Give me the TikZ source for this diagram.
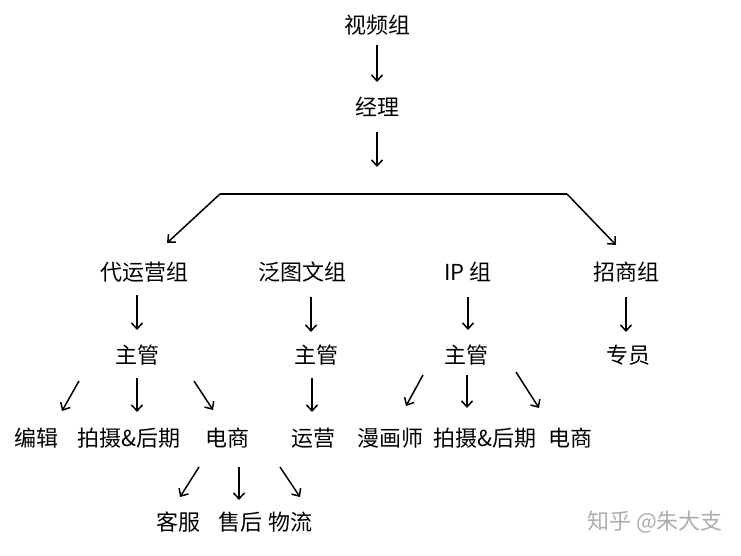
\documentclass[tikz,border=0pt]{standalone}
\usepackage{fontspec}
\setmainfont{Noto Sans CJK SC}
\usetikzlibrary{arrows.meta}
\tikzset{
  lbl/.style={inner sep=0pt, font=\fontsize{22}{26}\selectfont, text=black},
  arr/.style={line width=1.5pt, -{Straight Barb[length=6pt,width=11pt,line width=1.5pt]}},
  ln/.style={line width=1.5pt},
  wm/.style={inner sep=0pt, font=\fontsize{22}{26}\selectfont, text=black!32}
}
\begin{document}
\begin{tikzpicture}[x=1pt,y=-1pt]
\useasboundingbox (0,0) rectangle (741,556);
\fill[white] (0,0) rectangle (741,556);
% nodes
\node[lbl] (sp) at (377,25) {视频组};
\node[lbl] (jl) at (377,107) {经理};
\node[lbl] (dy) at (144,272) {代运营组};
\node[lbl] (ft) at (302,272) {泛图文组};
\node[lbl] (ip) at (468,272) {IP 组};
\node[lbl] (zs) at (626,272) {招商组};
\node[lbl] (zg1) at (137,355) {主管};
\node[lbl] (zg2) at (316,355) {主管};
\node[lbl] (zg3) at (466,355) {主管};
\node[lbl] (zy) at (628,355) {专员};
\node[lbl] (bj) at (36,438) {编辑};
\node[lbl] (ps1) at (129,438) {拍摄\&后期};
\node[lbl] (ds1) at (227,438) {电商};
\node[lbl] (yy) at (313,438) {运营};
\node[lbl] (mh) at (390,438) {漫画师};
\node[lbl] (ps2) at (485,438) {拍摄\&后期};
\node[lbl] (ds2) at (570,438) {电商};
\node[lbl] (kf) at (178,522) {客服};
\node[lbl] (sh) at (240,522) {售后};
\node[lbl] (wl) at (290,522) {物流};
\node[wm] (wmk) at (655,522) {知乎 @朱大支};
% coordinates
\coordinate (a1s) at (377,45);  \coordinate (a1e) at (377,82);
\coordinate (a2s) at (377,132); \coordinate (a2e) at (377,167);
\coordinate (hl) at (220,194);  \coordinate (hr) at (567,194);
\coordinate (dle) at (167,243); \coordinate (dre) at (616,245);
\coordinate (b1s) at (137,295); \coordinate (b1e) at (137,330);
\coordinate (b2s) at (311,297); \coordinate (b2e) at (311,332);
\coordinate (b3s) at (468,297); \coordinate (b3e) at (468,330);
\coordinate (b4s) at (626,297); \coordinate (b4e) at (626,332);
\coordinate (c1s) at (79,381);  \coordinate (c1e) at (62,411);
\coordinate (c2s) at (137,378); \coordinate (c2e) at (137,412);
\coordinate (c3s) at (194,381); \coordinate (c3e) at (213,410);
\coordinate (c4s) at (312,378); \coordinate (c4e) at (312,412);
\coordinate (c5s) at (423,375); \coordinate (c5e) at (406,406);
\coordinate (c6s) at (467,375); \coordinate (c6e) at (467,408);
\coordinate (c7s) at (516,372); \coordinate (c7e) at (539,408);
\coordinate (d1s) at (199,467); \coordinate (d1e) at (180,497);
\coordinate (d2s) at (239,467); \coordinate (d2e) at (239,500);
\coordinate (d3s) at (280,467); \coordinate (d3e) at (300,497);
% connectors
\draw[arr] (a1s) -- (a1e);
\draw[arr] (a2s) -- (a2e);
\draw[ln] (hl) -- (hr);
\draw[arr] (hl) -- (dle);
\draw[arr] (hr) -- (dre);
\foreach \n in {b1,b2,b3,b4,c1,c2,c3,c4,c5,c6,c7,d1,d2,d3}
  \draw[arr] (\n s) -- (\n e);
\end{tikzpicture}
\end{document}
